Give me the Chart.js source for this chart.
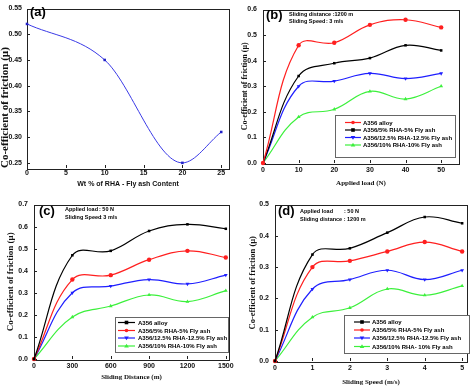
<!DOCTYPE html>
<html><head><meta charset="utf-8">
<script src="https://cdn.jsdelivr.net/npm/chart.js@4.4.0/dist/chart.umd.min.js"></script>
<style>
html,body{margin:0;padding:0;background:#fff;}
#wrap{position:relative;width:474px;height:387px;background:#fff;overflow:hidden;}
canvas{position:absolute;display:block;}
</style></head>
<body>
<div id="wrap">
<canvas id="ca" width="237" height="195" style="left:0;top:0;width:237px;height:195px"></canvas>
<canvas id="cb" width="237" height="195" style="left:237px;top:0;width:237px;height:195px"></canvas>
<canvas id="cc" width="237" height="192" style="left:0;top:195px;width:237px;height:192px"></canvas>
<canvas id="cd" width="237" height="192" style="left:237px;top:195px;width:237px;height:192px"></canvas>
</div>
<script>
// ---------- DATA ----------
const xA = [0, 10, 20, 25];
const yA = [0.52, 0.45, 0.25, 0.31];
const ticksAx = [0, 5, 10, 15, 20, 25];
const ticksAy = [0.25, 0.30, 0.35, 0.40, 0.45, 0.50, 0.55];

const xB = [0, 10, 20, 30, 40, 50];
const bAlloy = [0, 0.46, 0.47, 0.54, 0.56, 0.53];
const b5     = [0, 0.34, 0.39, 0.41, 0.46, 0.44];
const b125   = [0, 0.30, 0.32, 0.35, 0.33, 0.35];
const b10    = [0, 0.18, 0.21, 0.28, 0.25, 0.30];
const ticksBx = [0, 10, 20, 30, 40, 50];
const ticksBy = [0, 0.1, 0.2, 0.3, 0.4, 0.5, 0.6];

const xC = [0, 300, 600, 900, 1200, 1500];
const cAlloy = [0, 0.47, 0.49, 0.58, 0.61, 0.59];
const c5     = [0, 0.36, 0.38, 0.45, 0.49, 0.46];
const c125   = [0, 0.30, 0.33, 0.36, 0.34, 0.38];
const c10    = [0, 0.19, 0.24, 0.29, 0.26, 0.31];
const ticksCx = [0, 300, 600, 900, 1200, 1500];
const ticksCy = [0, 0.1, 0.2, 0.3, 0.4, 0.5, 0.6, 0.7];

const xD = [0, 1, 2, 3, 4, 5];
const dAlloy = [0, 0.34, 0.36, 0.41, 0.46, 0.44];
const d5     = [0, 0.30, 0.32, 0.35, 0.38, 0.35];
const d125   = [0, 0.23, 0.26, 0.29, 0.26, 0.29];
const d10    = [0, 0.14, 0.17, 0.23, 0.21, 0.24];
const ticksDx = [0, 1, 2, 3, 4, 5];
const ticksDy = [0, 0.1, 0.2, 0.3, 0.4, 0.5];

const namesBC = ["A356 alloy", "A356/5% RHA-5% Fly ash", "A356/12.5% RHA-12.5% Fly ash", "A356/10% RHA-10% Fly ash"];
const namesD  = ["A356 alloy", "A356/5% RHA-5% Fly ash", "A356/12.5% RHA-12.5% Fly ash", "A356/10% RHA- 10% Fly ash"];
const yTitle = "Co-efficient of friction (\u00b5)";

// ---------- STYLE ----------
const SANS = "'Liberation Sans', Arial, sans-serif";
const SERIF = "'Liberation Serif', 'Times New Roman', serif";
const RED = '#ff1f1f', BLACK = '#000000', BLUE = '#1f1fff', GREEN = '#3cf03c';

function marker(ctx, style, x, y, r, color) {
  ctx.save();
  ctx.fillStyle = color;
  ctx.beginPath();
  if (style === 'rect') ctx.rect(x - r, y - r, 2 * r, 2 * r);
  else if (style === 'circle') ctx.arc(x, y, r, 0, Math.PI * 2);
  else if (style === 'tri') { ctx.moveTo(x, y - r * 1.3); ctx.lineTo(x + r * 1.3, y + r * 0.9); ctx.lineTo(x - r * 1.3, y + r * 0.9); ctx.closePath(); }
  else if (style === 'tridown') { ctx.moveTo(x, y + r * 1.3); ctx.lineTo(x + r * 1.3, y - r * 0.9); ctx.lineTo(x - r * 1.3, y - r * 0.9); ctx.closePath(); }
  ctx.fill();
  ctx.restore();
}

function mk(id, p) {
  const deco = {
    id: 'deco',
    beforeDatasetsDraw(chart) {
      const { ctx, chartArea: a } = chart;
      ctx.save();
      ctx.strokeStyle = '#222';
      ctx.lineWidth = 1;
      ctx.strokeRect(Math.round(a.left) + 0.5, Math.round(a.top) + 0.5, Math.round(a.right - a.left), Math.round(a.bottom - a.top));
      ctx.beginPath();
      p.xt.forEach(v => {
        const px = Math.round(chart.scales.x.getPixelForValue(v)) + 0.5;
        ctx.moveTo(px, a.bottom); ctx.lineTo(px, a.bottom - 3);
      });
      p.yt.forEach(v => {
        const py = Math.round(chart.scales.y.getPixelForValue(v)) + 0.5;
        ctx.moveTo(a.left, py); ctx.lineTo(a.left + 3, py);
      });
      ctx.stroke();
      ctx.restore();
    },
    afterDraw(chart) {
      const ctx = chart.ctx;
      ctx.save();
      ctx.fillStyle = '#000';
      ctx.textBaseline = 'middle';
      ctx.textAlign = 'left';
      ctx.font = 'bold 13px ' + SANS;
      ctx.fillText(p.label.text, p.label.x, p.label.y);
      if (p.notes) {
        ctx.font = 'bold 5.5px ' + SANS;
        p.notes.forEach(n => ctx.fillText(n.text, n.x, n.y));
      }
      if (p.legend) {
        const L = p.legend;
        ctx.fillStyle = '#fff';
        ctx.fillRect(L.x1, L.y1, L.x2 - L.x1, L.y2 - L.y1);
        ctx.strokeStyle = '#666';
        ctx.lineWidth = 1;
        ctx.strokeRect(L.x1 + 0.5, L.y1 + 0.5, L.x2 - L.x1, L.y2 - L.y1);
        ctx.font = 'bold 6px ' + SANS;
        p.series.forEach((s, i) => {
          const y = L.ys[i];
          ctx.strokeStyle = s.color;
          ctx.lineWidth = 1.2;
          ctx.beginPath(); ctx.moveTo(L.lx1, y); ctx.lineTo(L.lx2, y); ctx.stroke();
          marker(ctx, s.style, (L.lx1 + L.lx2) / 2, y, 1.8, s.color);
          ctx.fillStyle = '#000';
          ctx.fillText(p.names[i], L.tx, y + 0.5);
        });
      }
      ctx.restore();
    }
  };

  const datasets = p.series.map(s => ({
    data: p.x.map((x, i) => ({ x: x, y: s.y[i] })),
    borderColor: s.line || s.color,
    backgroundColor: s.color,
    borderWidth: s.width || 1.2,
    pointStyle: s.style === 'tridown' ? 'triangle' : (s.style === 'tri' ? 'triangle' : s.style),
    pointRotation: s.style === 'tridown' ? 180 : 0,
    pointRadius: s.r || 2.2,
    pointBorderWidth: 0,
    pointBackgroundColor: s.color,
    tension: p.mono ? 0 : 0.4,
    cubicInterpolationMode: p.mono ? 'monotone' : 'default',
    clip: false
  }));

  new Chart(document.getElementById(id), {
    type: 'line',
    data: { datasets },
    plugins: [deco],
    options: {
      responsive: false,
      animation: false,
      layout: { padding: { left: 0, right: p.padR, top: p.padT, bottom: 0 } },
      plugins: { legend: { display: false }, tooltip: { enabled: false } },
      scales: {
        x: {
          type: 'linear', min: p.xmin, max: p.xmax,
          grid: { display: false, drawTicks: false }, border: { display: false },
          afterBuildTicks: s => { s.ticks = p.xt.map(v => ({ value: v })); },
          afterFit: s => { s.height = p.xH; },
          ticks: { padding: p.xTickPad, color: '#111', maxRotation: 0, autoSkip: false,
            font: { family: SANS, size: 7, weight: 'bold', lineHeight: 1 }, callback: v => String(v) },
          title: { display: true, text: p.xTitle, color: '#111',
            font: { family: p.xTitleFam, size: 7, weight: 'bold' },
            padding: { top: 0, bottom: p.xTitlePad } }
        },
        y: {
          type: 'linear', min: p.ymin, max: p.ymax,
          grid: { display: false, drawTicks: false }, border: { display: false },
          afterBuildTicks: s => { s.ticks = p.yt.map(v => ({ value: v })); },
          afterFit: s => { s.width = p.yW; },
          ticks: { padding: p.yTickPad, color: '#111', autoSkip: false,
            font: { family: SANS, size: 7, weight: 'bold', lineHeight: 1 }, callback: v => v.toFixed(p.ydec) },
          title: { display: true, text: yTitle, color: '#111', align: p.yAlign || 'center',
            font: { family: SERIF, size: p.yTitleSize, weight: 'bold' },
            padding: { top: p.yTitlePad, bottom: 0 } }
        }
      }
    }
  });
}

// Panel (a)
mk('ca', {
  x: xA, xt: ticksAx, yt: ticksAy, xmin: 0, xmax: 26, ymin: 0.24, ymax: 0.55, ydec: 2,
  yW: 27, xH: 27, padR: 8, padT: 3.5, xTickPad: 1.5, yTickPad: 5,
  xTitle: 'Wt % of RHA - Fly ash Content', xTitleFam: SANS, xTitlePad: 6.8,
  yTitleSize: 11, yTitlePad: -1.6, yAlign: 'start', mono: true,
  series: [{ y: yA, color: '#2020c8', line: '#3a3ae6', style: 'rect', r: 1.8, width: 1 }],
  label: { text: '(a)', x: 30, y: 12 }
});

// Panel (b)
mk('cb', {
  x: xB, xt: ticksBx, yt: ticksBy, xmin: 0, xmax: 55, ymin: 0, ymax: 0.6, ydec: 1,
  yW: 26, xH: 32, padR: 15, padT: 4, xTickPad: 3.3, yTickPad: 6,
  xTitle: 'Applied load (N)', xTitleFam: SERIF, xTitlePad: 7.8,
  yTitleSize: 8, yTitlePad: 3.2,
  series: [
    { y: bAlloy, color: RED, style: 'circle' },
    { y: b5, color: BLACK, style: 'rect', r: 1.8 },
    { y: b125, color: BLUE, style: 'tridown' },
    { y: b10, color: GREEN, style: 'tri' }
  ],
  names: namesBC,
  label: { text: '(b)', x: 29, y: 15 },
  notes: [
    { text: 'Sliding distance :1200 m', x: 52, y: 14 },
    { text: 'Sliding Speed', x: 52, y: 21 },
    { text: ': 3 m/s', x: 89, y: 21 }
  ],
  legend: { x1: 98, y1: 115, x2: 218, y2: 157, lx1: 108, lx2: 124, tx: 126, ys: [122.5, 130, 137.5, 145] }
});

// Panel (c)
mk('cc', {
  x: xC, xt: ticksCx, yt: ticksCy, xmin: 0, xmax: 1525, ymin: 0, ymax: 0.7, ydec: 1,
  yW: 34, xH: 28, padR: 7, padT: 6, xTickPad: 3.3, yTickPad: 6,
  xTitle: 'Sliding Distance (m)', xTitleFam: SERIF, xTitlePad: 5.8,
  yTitleSize: 9, yTitlePad: 5.6,
  series: [
    { y: cAlloy, color: BLACK, style: 'rect', r: 1.8 },
    { y: c5, color: RED, style: 'circle' },
    { y: c125, color: BLUE, style: 'tridown' },
    { y: c10, color: GREEN, style: 'tri' }
  ],
  names: namesBC,
  label: { text: '(c)', x: 39, y: 16 },
  notes: [
    { text: 'Applied load', x: 65, y: 14 },
    { text: ': 50 N', x: 99, y: 14 },
    { text: 'Sliding Speed', x: 65, y: 22 },
    { text: ': 3 m/s', x: 100, y: 22 }
  ],
  legend: { x1: 115, y1: 122, x2: 228, y2: 157, lx1: 118, lx2: 135, tx: 138, ys: [127.5, 135.5, 143, 151] }
});

// Panel (d)
mk('cd', {
  x: xD, xt: ticksDx, yt: ticksDy, xmin: 0, xmax: 5.13, ymin: 0, ymax: 0.5, ydec: 1,
  yW: 38, xH: 26, padR: 7, padT: 6, xTickPad: 3.3, yTickPad: 6,
  xTitle: 'Sliding Speed (m/s)', xTitleFam: SERIF, xTitlePad: 0.8,
  yTitleSize: 8.5, yTitlePad: 10.9,
  series: [
    { y: dAlloy, color: BLACK, style: 'rect', r: 1.8 },
    { y: d5, color: RED, style: 'circle' },
    { y: d125, color: BLUE, style: 'tridown' },
    { y: d10, color: GREEN, style: 'tri' }
  ],
  names: namesD,
  label: { text: '(d)', x: 41, y: 16 },
  notes: [
    { text: 'Applied load', x: 63, y: 16 },
    { text: ': 50 N', x: 107, y: 16 },
    { text: 'Sliding distance : 1200 m', x: 63, y: 24 }
  ],
  legend: { x1: 107, y1: 120, x2: 232, y2: 158, lx1: 117, lx2: 133, tx: 135, ys: [127, 135, 143, 151.5] }
});
</script>
</body></html>
